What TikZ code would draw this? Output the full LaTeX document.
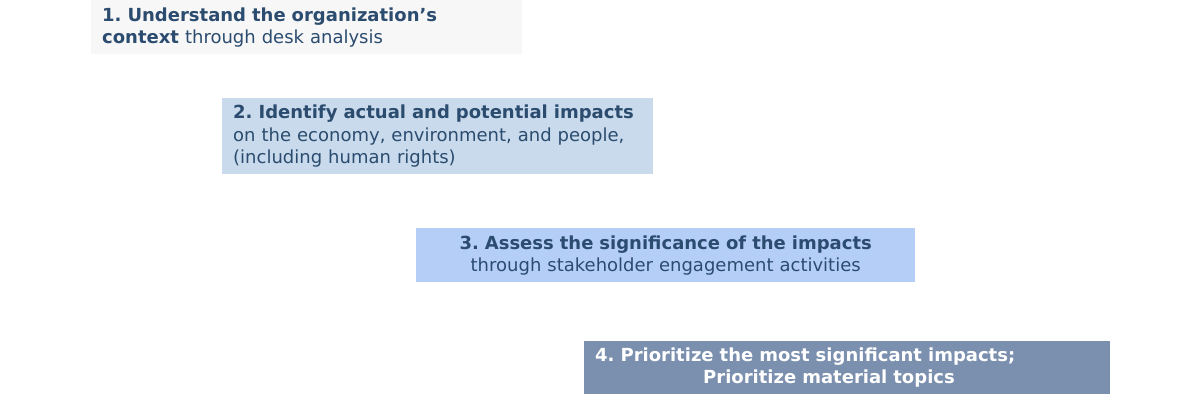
\documentclass[tikz,border=0pt]{standalone}
\usepackage{fontspec}
\setmainfont{DejaVu Sans}
\frenchspacing
\definecolor{cone}{HTML}{F7F7F7}
\definecolor{ctwo}{HTML}{C8DAEB}
\definecolor{cthree}{HTML}{B4CEF8}
\definecolor{cfour}{HTML}{7B8FAE}
\definecolor{txt}{HTML}{2B4C6F}
\begin{document}
\begin{tikzpicture}[x=1pt,y=-1pt,
  stepbox/.style={rectangle, inner xsep=11pt, inner ysep=0pt, anchor=north west,
    font=\fontsize{18}{22.3}\selectfont\frenchspacing, text=txt}]
\useasboundingbox (0,0) rectangle (1200,400);
\node[stepbox, fill=cone, minimum width=431pt, minimum height=54pt, text width=409pt, align=left] (s1) at (91,0)
  {\textbf{1. Understand the organization’s}\\\textbf{context} through desk analysis};
\node[stepbox, fill=ctwo, minimum width=431pt, minimum height=76pt, text width=409pt, align=left] (s2) at (222,98)
  {\textbf{2. Identify actual and potential impacts}\\on the economy, environment, and people,\\(including human rights)};
\node[stepbox, fill=cthree, minimum width=499pt, minimum height=54pt, text width=477pt, align=center] (s3) at (416,228)
  {\textbf{3. Assess the significance of the impacts}\\through stakeholder engagement activities};
\node[stepbox, fill=cfour, text=white, minimum width=526pt, minimum height=53pt, text width=504pt, align=left] (s4) at (584,341)
  {\textbf{4. Prioritize the most significant impacts;}\\\hspace*{108pt}\textbf{Prioritize material topics}};
\end{tikzpicture}
\end{document}
